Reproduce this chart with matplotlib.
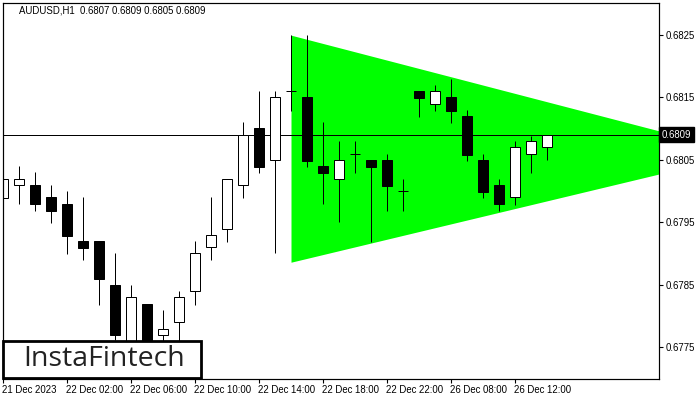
import matplotlib
matplotlib.use("Agg")
import matplotlib.pyplot as plt
import matplotlib.patches as mpatches
import matplotlib.transforms as mtransforms

# ---------------- data ----------------
symbol_title = "AUDUSD,H1  0.6807 0.6809 0.6805 0.6809"
opens = [0.67989, 0.68009, 0.68009, 0.67990, 0.67979, 0.67920, 0.67920, 0.67850,
         0.67755, 0.67819, 0.67770, 0.67790, 0.67840, 0.67910, 0.67939, 0.68009,
         0.68101, 0.68049, 0.68160, 0.68150, 0.68040, 0.68019, 0.68059, 0.68049,
         0.68049, 0.68000, 0.68160, 0.68139, 0.68150, 0.68120, 0.68049, 0.68009,
         0.67990, 0.68059, 0.6807]
highs = [0.68030, 0.68040, 0.68030, 0.68009, 0.68000, 0.67990, 0.67920, 0.67901,
         0.67850, 0.67819, 0.67810, 0.67840, 0.67920, 0.67990, 0.68019, 0.68110,
         0.68160, 0.68160, 0.68249, 0.68249, 0.68110, 0.68080, 0.68080, 0.68049,
         0.68059, 0.68019, 0.68160, 0.68169, 0.68179, 0.68129, 0.68059, 0.68019,
         0.68080, 0.68088, 0.6809]
lows = [0.67928, 0.67979, 0.67968, 0.67949, 0.67899, 0.67889, 0.67818, 0.67762,
        0.67740, 0.67735, 0.67745, 0.67755, 0.67818, 0.67889, 0.67918, 0.67989,
        0.68029, 0.67901, 0.68128, 0.68038, 0.67979, 0.67950, 0.68029, 0.67918,
        0.67968, 0.67968, 0.68118, 0.68128, 0.68109, 0.68048, 0.67989, 0.67968,
        0.67977, 0.68029, 0.6805]
closes = [0.68019, 0.68019, 0.67979, 0.67968, 0.67928, 0.67909, 0.67859, 0.67770,
          0.67830, 0.67745, 0.67779, 0.67830, 0.67901, 0.67929, 0.68019, 0.68089,
          0.68038, 0.68150, 0.68160, 0.68048, 0.68029, 0.68049, 0.68059, 0.68038,
          0.68008, 0.68000, 0.68148, 0.68160, 0.68128, 0.68057, 0.67998, 0.67979,
          0.68070, 0.68080, 0.6809]
xtick_idx = [0, 4, 8, 12, 16, 20, 24, 28, 32]
xtick_labels = ["21 Dec 2023", "22 Dec 02:00", "22 Dec 06:00", "22 Dec 10:00",
                "22 Dec 14:00", "22 Dec 18:00", "22 Dec 22:00", "26 Dec 08:00",
                "26 Dec 12:00"]
ytick_vals = [0.6775, 0.6785, 0.6795, 0.6805, 0.6815, 0.6825]
ytick_labels = ["0.6775", "0.6785", "0.6795", "0.6805", "0.6815", "0.6825"]
current_price = 0.6809
current_label = "0.6809"
pattern_x = [18, 41]
pattern_upper = [0.68249, 0.68096]
pattern_lower = [0.67886, 0.68027]
logo_text = "InstaFintech"

# ---------------- figure ----------------
W, H = 700, 400
FONT = "Liberation Sans"
FS = 6.9
fig = plt.figure(figsize=(7, 4), dpi=100)
fig.patch.set_facecolor("white")
ax = fig.add_axes([3 / W, 21 / H, 656 / W, 376 / H])
ax.set_xlim(0, 41)
ax.set_ylim(0.676993, 0.683004)

px = 0.72  # one pixel in points

# triangle pattern
ax.fill_between(pattern_x, pattern_lower, pattern_upper, color="#00FF00",
                linewidth=0, zorder=1)

# current price line
ax.axhline(current_price, color="black", linewidth=px, zorder=2)

# candles
idx = list(range(len(opens)))
ax.vlines(idx, lows, highs, color="black", linewidth=px, zorder=3)
body_w = 0.64
for i, o, c in zip(idx, opens, closes):
    if abs(c - o) < 1e-6:
        ax.hlines(o, i - body_w / 2, i + body_w / 2, color="black",
                  linewidth=px, zorder=4)
    else:
        bottom = min(o, c)
        height = abs(c - o)
        face = "white" if c > o else "black"
        ax.bar(i, height, bottom=bottom, width=body_w, color=face,
               edgecolor="black", linewidth=px, zorder=4)

# axes styling
for s in ax.spines.values():
    s.set_color("black")
    s.set_linewidth(px * 1.2)
    s.set_zorder(6)

ax.yaxis.tick_right()
ax.set_yticks(ytick_vals)
ax.set_yticklabels(ytick_labels)
ax.set_xticks(xtick_idx)
ax.set_xticklabels(xtick_labels, ha="left")
ax.tick_params(axis="both", direction="out", length=3, width=0.8,
               colors="black", labelsize=FS)
ax.tick_params(axis="y", pad=2)
ax.tick_params(axis="x", pad=1.5)
for lab in ax.get_xticklabels() + ax.get_yticklabels():
    lab.set_fontfamily(FONT)
# shift x labels slightly to the left
offset = mtransforms.ScaledTranslation(-1.5 / 100, 0, fig.dpi_scale_trans)
for lab in ax.get_xticklabels():
    lab.set_transform(lab.get_transform() + offset)

# current price label on axis
trans = mtransforms.blended_transform_factory(ax.transAxes, ax.transData)
ax.text(1.0 + 3 / 656, current_price, current_label, transform=trans,
        ha="left", va="center", color="white", fontsize=FS,
        family=FONT, zorder=10, clip_on=False,
        bbox=dict(boxstyle="square,pad=0.3", facecolor="black",
                  edgecolor="black"))

# title
ax.text(16 / 656, (379 - 10.5) / 376, symbol_title, transform=ax.transAxes,
        ha="left", va="center", fontsize=FS, family=FONT,
        color="black", zorder=10)

# logo box
logo = mpatches.Rectangle((0.0, 0.003), 198 / 656, 37 / 376,
                          transform=ax.transAxes, facecolor="white",
                          edgecolor="black", linewidth=2.0, zorder=8,
                          clip_on=False)
ax.add_patch(logo)
ax.text(101 / 656, (379 - 359) / 376, logo_text, transform=ax.transAxes,
        ha="center", va="center", fontsize=20.5, family="Open Sans",
        color="#222222", zorder=9)

fig.savefig("out.png", dpi=100, facecolor="white")
